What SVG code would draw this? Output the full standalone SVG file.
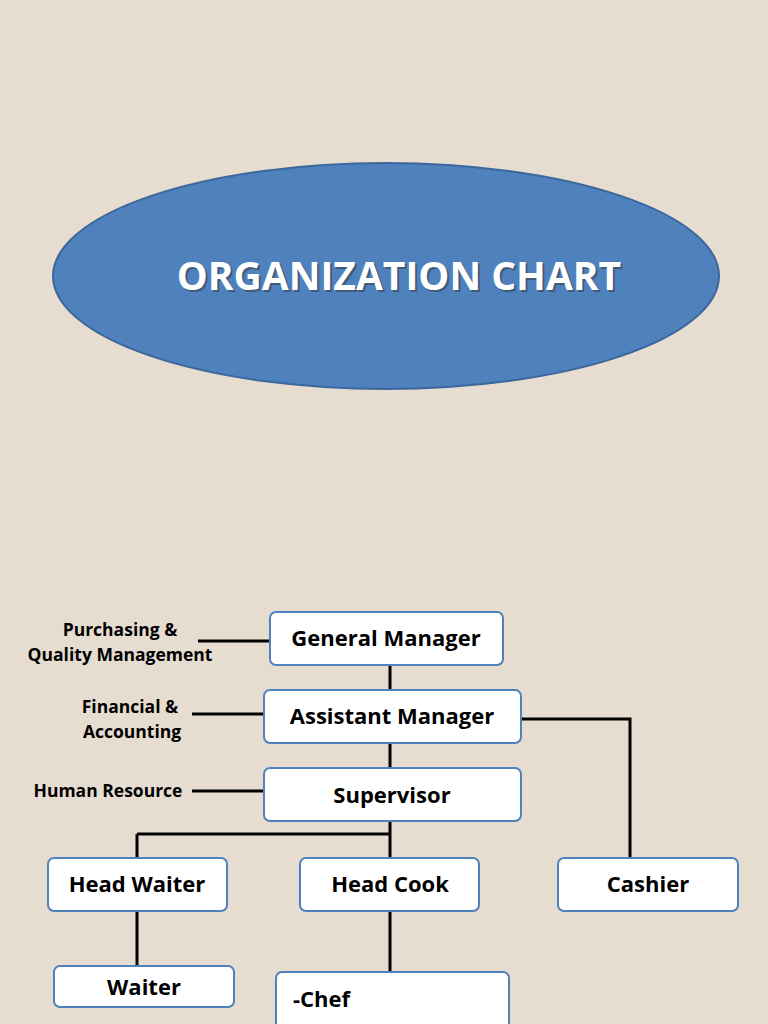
<svg xmlns="http://www.w3.org/2000/svg" width="768" height="1024" viewBox="0 0 768 1024">
<style>
.box{fill:#fff;stroke:#4f81bd;stroke-width:2}
.t{font-family:"Open Sans","Liberation Sans",sans-serif;font-weight:bold;font-size:22px;fill:#000;text-anchor:middle}
.s{font-family:"Open Sans","Liberation Sans",sans-serif;font-weight:bold;font-size:17.5px;fill:#000;text-anchor:middle}
.ln{stroke:#000;stroke-width:3;fill:none}
</style>
<rect width="768" height="1024" fill="#e6ddd0"/>
<g id="title">
<ellipse cx="386" cy="276" rx="333" ry="113" fill="#4f81bd" stroke="#3b679c" stroke-width="2"/>
<text x="401" y="292" font-family="'Open Sans','Liberation Sans',sans-serif" font-weight="bold" font-size="39" fill="#333" fill-opacity="0.5" text-anchor="middle">ORGANIZATION CHART</text>
<text x="399" y="290" font-family="'Open Sans','Liberation Sans',sans-serif" font-weight="bold" font-size="39" fill="#fff" text-anchor="middle">ORGANIZATION CHART</text>
</g>
<g id="connectors">
<path class="ln" d="M270 641H198M264 714H192M264 791H192M390 665V690M390 743V768M390 821V858M137 834H390M137 834V858M521 719H630V858M137 911V966M390 911V972"/>
</g>
<g id="labels">
<text class="s" x="120" y="636">Purchasing &amp;</text>
<text class="s" x="120" y="661">Quality Management</text>
<text class="s" x="130" y="713">Financial &amp;</text>
<text class="s" x="132" y="738">Accounting</text>
<text class="s" x="108" y="797">Human Resource</text>
</g>
<g id="gm"><rect class="box" x="270" y="612" width="233" height="53" rx="6"/><text class="t" x="386" y="646">General Manager</text></g>
<g id="am"><rect class="box" x="264" y="690" width="257" height="53" rx="6"/><text class="t" x="392" y="724">Assistant Manager</text></g>
<g id="sup"><rect class="box" x="264" y="768" width="257" height="53" rx="6"/><text class="t" x="392" y="803">Supervisor</text></g>
<g id="hw"><rect class="box" x="48" y="858" width="179" height="53" rx="6"/><text class="t" x="137" y="892">Head Waiter</text></g>
<g id="hc"><rect class="box" x="300" y="858" width="179" height="53" rx="6"/><text class="t" x="390" y="892">Head Cook</text></g>
<g id="cashier"><rect class="box" x="558" y="858" width="180" height="53" rx="6"/><text class="t" x="648" y="892">Cashier</text></g>
<g id="waiter"><rect class="box" x="54" y="966" width="180" height="41" rx="6"/><text class="t" x="144" y="995">Waiter</text></g>
<g id="chef"><rect class="box" x="276" y="972" width="233" height="70" rx="6"/><text class="t" x="293" y="1007" style="text-anchor:start">-Chef</text></g>
</svg>
